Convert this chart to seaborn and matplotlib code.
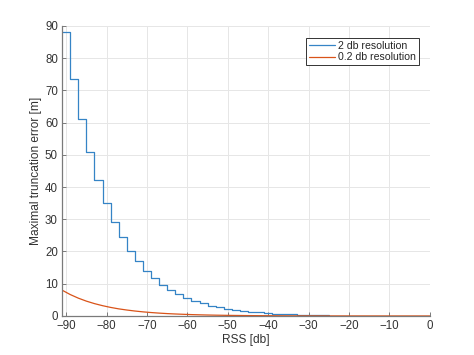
import numpy as np
import pandas as pd
import matplotlib
matplotlib.use("Agg")
import matplotlib.pyplot as plt
import seaborn as sns

# 2 db resolution (stairs), x = RSS [db]
rss_2db = list(range(-91, -24, 2))
err_2db = [88.2, 73.4, 61.1, 50.8, 42.3, 35.2, 29.3, 24.4, 20.3, 16.9,
           14.1, 11.7, 9.7, 8.1, 6.8, 5.6, 4.7, 3.9, 3.2, 2.7,
           2.25, 1.87, 1.56, 1.3, 1.08, 0.9, 0.75, 0.62, 0.52, 0.43,
           0.36, 0.30, 0.25, 0.21]

# 0.2 db resolution (smooth curve, read at selected RSS values)
rss_02db = [-91, -89, -87, -85, -83, -81, -79, -77, -75, -73, -71, -69, -67,
            -65, -63, -61, -59, -57, -55, -53, -51, -49, -47, -45, -40,
            -35, -30, -25, -20, -15, -10, -5, 0]
err_02db = [8.0, 6.65, 5.53, 4.6, 3.83, 3.19, 2.65, 2.2, 1.84, 1.53, 1.27,
            1.06, 0.88, 0.73, 0.61, 0.51, 0.42, 0.35, 0.29, 0.24, 0.2, 0.165,
            0.14, 0.11, 0.07, 0.04, 0.025, 0.015, 0.01, 0.005, 0.003, 0.002,
            0.001]

x_ticks = [-90, -80, -70, -60, -50, -40, -30, -20, -10, 0]
y_ticks = [0, 10, 20, 30, 40, 50, 60, 70, 80, 90]

sns.set_theme(style="whitegrid")
plt.rcParams['font.family'] = ['Liberation Sans', 'DejaVu Sans']

fig = plt.figure(figsize=(4.74, 3.55), dpi=100)
ax = fig.add_axes([0.131, 0.110, 0.776, 0.817])

df1 = pd.DataFrame({"rss": rss_2db, "err": err_2db})
df2 = pd.DataFrame({"rss": rss_02db, "err": err_02db})

sns.lineplot(data=df1, x="rss", y="err", ax=ax, color="#3584c6", lw=0.9,
             drawstyle="steps-post", label="2 db resolution")
sns.lineplot(data=df2, x="rss", y="err", ax=ax, color="#D95319", lw=0.9,
             label="0.2 db resolution")

ax.set_xlim(-91, 0)
ax.set_ylim(0, 90)
ax.set_xticks(x_ticks)
ax.set_yticks(y_ticks)
ax.set_facecolor("white")
ax.grid(True, color="#e6e6e6", lw=0.7)
for s in ["top", "right"]:
    ax.spines[s].set_visible(False)
for s in ["left", "bottom"]:
    ax.spines[s].set_visible(True)
    ax.spines[s].set_color("#7a7a7a")
    ax.spines[s].set_linewidth(0.9)
ax.tick_params(direction="in", length=3, width=0.7, color="#7a7a7a",
               labelsize=8.3, labelcolor="#333333", pad=3,
               bottom=True, left=True)
ax.set_xlabel("RSS [db]", fontsize=8.6, color="#333333", labelpad=1)
ax.set_ylabel("Maximal truncation error [m]", fontsize=8.6, color="#333333",
              labelpad=2)

leg = ax.legend(loc="upper right", bbox_to_anchor=(0.975, 0.965),
                fontsize=7.6, frameon=True, fancybox=False, framealpha=1,
                handlelength=2.5, handletextpad=0.3, borderpad=0.25,
                labelspacing=0.15, borderaxespad=0.2)
leg.get_frame().set_edgecolor("#333333")
leg.get_frame().set_linewidth(0.7)

fig.savefig("out.png", dpi=100)
